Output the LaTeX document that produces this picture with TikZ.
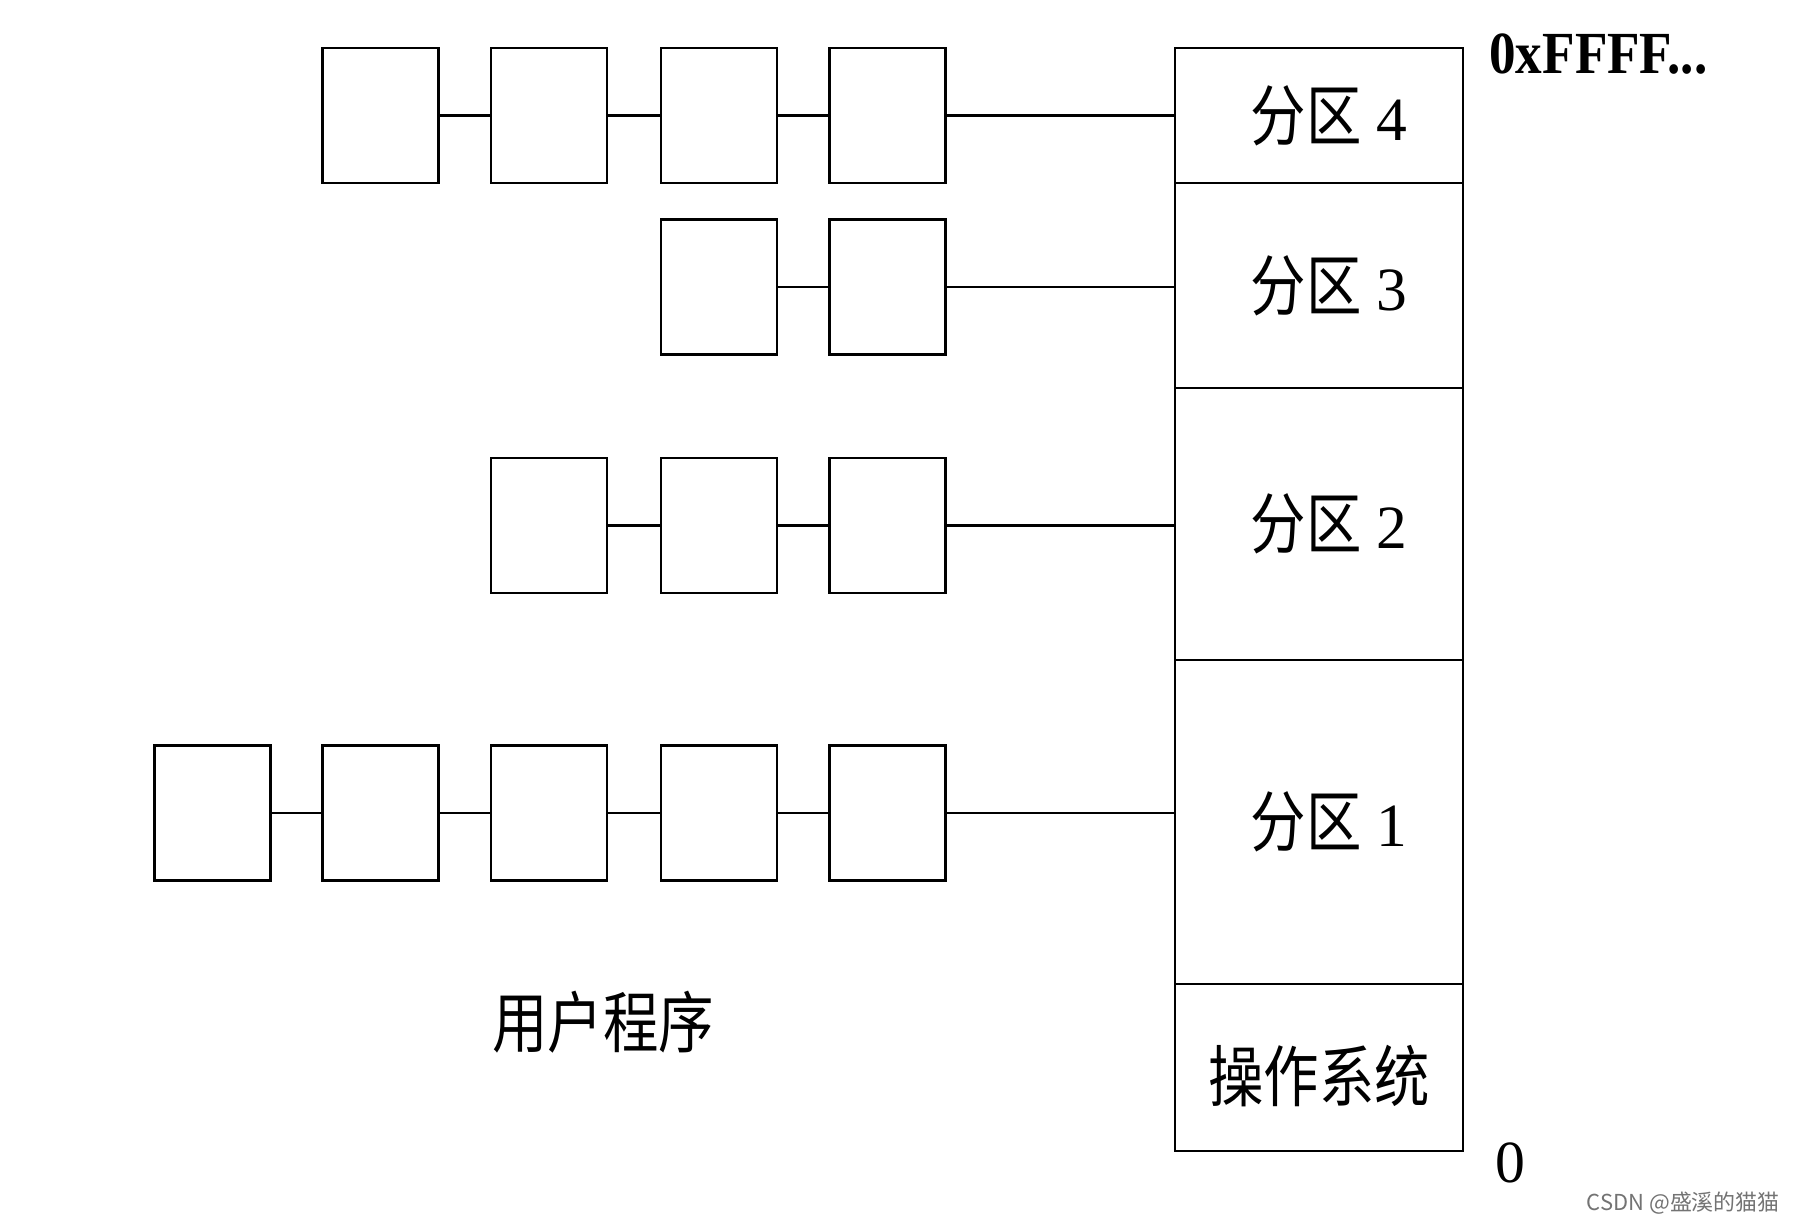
\documentclass[tikz,border=0pt]{standalone}
\usepackage{fontspec}
\setmainfont{Liberation Serif}
\newfontfamily\cjk[FakeStretch=0.83]{Noto Sans CJK SC}
\newfontfamily\hexfont[FakeStretch=0.89]{Liberation Serif}
\newfontfamily\markfont{Noto Sans CJK SC}
\tikzset{
  job/.style={draw, line width=1.4pt, minimum width=2.32cm, minimum height=2.7cm, inner sep=0pt},
  part/.style={draw, line width=1.4pt, minimum width=5.76cm, inner sep=0pt},
  link/.style={line width=1.4pt},
  cjktext/.style={font=\cjk\fontsize{38}{40}\selectfont},
  numtext/.style={font=\fontsize{34}{36}\selectfont, inner sep=0pt},
}
\newcommand{\partlabel}[1]{\hspace*{0.4cm}{\cjk\fontsize{38}{40}\selectfont 分区}\hspace{0.3cm}{\fontsize{35}{36}\selectfont #1}}
\begin{document}
\begin{tikzpicture}[x=0.02cm, y=-0.02cm]
  \useasboundingbox (0,0) rectangle (1801,1221);
  % memory column
  \node[part, minimum height=2.7cm] (p4) at (1319,115.5) {\partlabel{4}};
  \node[part, minimum height=4.1cm] (p3) at (1319,285.5) {\partlabel{3}};
  \node[part, minimum height=5.44cm] (p2) at (1319,524) {\partlabel{2}};
  \node[part, minimum height=6.48cm] (p1) at (1319,822) {\partlabel{1}};
  \node[part, minimum height=3.34cm] (os) at (1319,1067.5) {};
  \node[cjktext, yshift=-0.17cm] (oslabel) at (os.center) {操作系统};
  \node[numtext, font=\hexfont\bfseries\fontsize{34}{36}\selectfont, anchor=west] (top) at (1489,54) {0xFFFF...};
  \node[numtext] (bottom) at (1510,1163) {0};
  % job queues
  \foreach \i/\x in {2/380.5,3/549,4/719,5/887.5}
    \node[job] (r4c\i) at (\x,115.5) {};
  \foreach \i/\x in {4/719,5/887.5}
    \node[job] (r3c\i) at (\x,287) {};
  \foreach \i/\x in {3/549,4/719,5/887.5}
    \node[job] (r2c\i) at (\x,525.5) {};
  \foreach \i/\x in {1/212.5,2/380.5,3/549,4/719,5/887.5}
    \node[job] (r1c\i) at (\x,813) {};
  \foreach \a/\b in {2/3,3/4,4/5}
    \draw[link] (r4c\a) -- (r4c\b);
  \draw[link] (r3c4) -- (r3c5);
  \foreach \a/\b in {3/4,4/5}
    \draw[link] (r2c\a) -- (r2c\b);
  \foreach \a/\b in {1/2,2/3,3/4,4/5}
    \draw[link] (r1c\a) -- (r1c\b);
  \draw[link] (r4c5.east) -- (r4c5.east -| p4.west);
  \draw[link] (r3c5.east) -- (r3c5.east -| p3.west);
  \draw[link] (r2c5.east) -- (r2c5.east -| p2.west);
  \draw[link] (r1c5.east) -- (r1c5.east -| p1.west);
  \node[cjktext] (user) at (603,1022) {用户程序};
  \node[font=\markfont\fontsize{12.5}{14}\selectfont, text=black!55, anchor=east] (mark) at (1786,1203) {CSDN @盛溪的猫猫};
\end{tikzpicture}
\end{document}
